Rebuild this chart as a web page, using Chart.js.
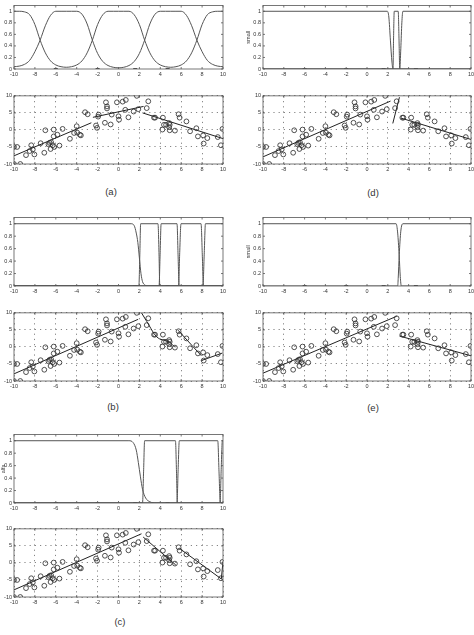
<!DOCTYPE html>
<html>
<head>
<meta charset="utf-8">
<script src="https://cdn.jsdelivr.net/npm/chart.js@4.4.0/dist/chart.umd.min.js"></script>
<style>
    html, body { margin: 0; padding: 0; background: #fff; }
    #fig { position: relative; width: 474px; height: 635px; overflow: hidden; background: #fff;
           font-family: "Liberation Sans", Arial, sans-serif; }
    #fig canvas { position: absolute; }
    .cap { position: absolute; font-size: 9.5px; line-height: 1; color: #333; transform: translateX(-50%); }
</style>
</head>
<body>
<div id="fig"></div>
<script>
// ticks
const xTicks = [-10, -8, -6, -4, -2, 0, 2, 4, 6, 8, 10];
const gateTicks = [0, 0.2, 0.4, 0.6, 0.8, 1];
const dataTicks = [-10, -5, 0, 5, 10];

// samples (same in every lower panel)
const sampleX = [-10, -9.7, -10, -9.4, -8.85, -8.5, -8.35, -8.2, -8.05, -7.45, -7.1, -7.0, -6.7, -6.6, -6.45, -6.5,
    -6.3, -6.2, -6.2, -6.15, -5.85, -5.65, -5.35, -4.65, -4.25, -4.0, -3.95, -3.7, -3.6, -3.2, -2.95, -2.15, -2.05,
    -1.95, -1.9, -1.3, -1.2, -1.1, -1.1, -0.75, -0.65, -0.15, 0, 0.05, 0.4, 0.7, 0.65, 0.95, 1.45, 1.75, 1.9, 2.85,
    2.7, 3.4, 3.5, 4.25, 4.2, 4.35, 4.55, 4.85, 4.85, 4.9, 4.9, 5.4, 5.75, 5.85, 6.5, 6.85, 7.45, 7.6, 8.1, 8.15,
    8.5, 9.5, 9.8, 9.95];
const sampleY = [-5, -5, -10, -10, -7.4, -6.2, -4.5, -5.7, -7.2, -3.9, -6.7, -0.1, -4.2, -3.8, -3.6, -5.6,
    -4.5, 0.1, -1.9, -5.0, -1.4, -4.6, 0.3, -2.6, -0.9, 1.1, -0.8, -1.4, -1.6, 5.2, 4.6, 1.3, 0.6,
    3.9, 4.5, 2.1, 8.1, 6.9, 6.3, 1.6, 4.5, 8.1, 4.0, 3.0, 8.3, 8.8, 5.9, 3.7, 5.4, 10, 6.1, 8.4,
    6.4, 3.6, 3.6, 3.6, 0.1, 1.5, 1.5, 2.0, 0.8, 1.5, -0.1, -0.2, 4.6, 3.6, 2.5, -0.4, 0.5, -1.9, -1.6, -4.0,
    -2.4, -2.1, -4.5, 0.3];
const markerX = [-6, -2, 1.6, 4.7];

// (a)
const gridA = [-10, -9.5, -9, -8.5, -8, -7.5, -7, -6.5, -6, -5.5, -5, -4.5, -4, -3.5, -3, -2.5, -2, -1.5, -1, -0.5,
    0, 0.5, 1, 1.5, 2, 2.5, 3, 3.5, 4, 4.5, 5, 5.5, 6, 6.5, 7, 7.5, 8, 8.5, 9, 9.5, 10];
const gateA1 = [1, 1, 0.99, 0.94, 0.77, 0.5, 0.28, 0.14, 0.07, 0.04, 0.03, 0.04, 0.07, 0.14, 0.28, 0.5, 0.77, 0.94, 1, 1,
    1, 1, 1, 0.94, 0.77, 0.5, 0.28, 0.14, 0.07, 0.04, 0.03, 0.04, 0.07, 0.14, 0.28, 0.5, 0.77, 0.94, 0.99, 1, 1];
const gateA2 = [0.04, 0.05, 0.08, 0.15, 0.3, 0.5, 0.75, 0.93, 1, 1, 1, 1, 1, 0.95, 0.78, 0.5, 0.27, 0.13, 0.06, 0.03,
    0.02, 0.03, 0.06, 0.13, 0.27, 0.5, 0.78, 0.95, 1, 1, 1, 1, 1, 0.93, 0.75, 0.5, 0.3, 0.15, 0.08, 0.05, 0.04];
const fitAX = [[-10, -2.6], [-2.45, 2.4], [2.3, 10]];
const fitAY = [[-7.6, 2.1], [3.7, 6.9], [5.0, -2.55]];

// (b)
const gateBX = [[-10, 1.2, 1.5, 1.7, 1.85, 2.0, 2.15, 2.3, 2.5, 2.8, 10],
    [-10, 1.95, 2.04, 2.12, 3.78, 3.88, 3.95, 10],
    [-10, 3.88, 3.98, 4.08, 5.6, 5.7, 5.8, 10],
    [-10, 5.75, 5.85, 5.98, 7.9, 8.02, 8.12, 10],
    [-10, 8.08, 8.2, 8.32, 10]];
const gateBY = [[1, 1, 0.97, 0.85, 0.7, 0.45, 0.2, 0.07, 0.02, 0, 0],
    [0, 0, 0.5, 1, 1, 0.5, 0, 0],
    [0, 0, 0.5, 1, 1, 0.5, 0, 0],
    [0, 0, 0.5, 1, 1, 0.5, 0, 0],
    [0, 0, 0.5, 1, 1]];
const fitBX = [[-10, 1.88], [2.2, 2.7, 3.1, 3.4, 3.8, 4.3, 4.9, 5.4], [5.7, 7.93], [7.93, 9.94]];
const fitBY = [[-7.9, 8.1], [10, 7.5, 5.4, 3.9, 2.6, 2.0, 1.4, -0.1], [4.9, -2.6], [-4.0, -1.8]];

// (c)
const gateCX = [[-10, 1.0, 1.4, 1.7, 1.9, 2.1, 2.3, 2.6, 3.0, 3.6, 10],
    [-10, 2.3, 2.4, 2.5, 5.45, 5.55, 5.63, 10],
    [-10, 5.6, 5.7, 5.82, 9.5, 9.62, 9.74, 10],
    [-10, 9.72, 9.82, 9.94, 10]];
const gateCY = [[1, 1, 0.97, 0.85, 0.65, 0.42, 0.22, 0.08, 0.02, 0, 0],
    [0, 0, 0.5, 1, 1, 0.5, 0, 0],
    [0, 0, 0.5, 1, 1, 0.5, 0, 0],
    [0, 0, 0.5, 1, 1]];
const fitCX = [[-10, 2.2], [2.36, 5.48], [5.86, 9.84], [9.84, 10]];
const fitCY = [[-7.9, 8.55], [7.6, -0.6], [4.2, -4.7], [-4.7, 0.4]];

// (d)
const gateDX = [[-10, 1.95, 2.1, 2.25, 2.4, 2.5, 10],
    [-10, 2.5, 2.55, 2.62, 3.0, 3.08, 3.15, 10],
    [-10, 3.15, 3.25, 3.35, 3.45, 10]];
const gateDY = [[1, 1, 0.9, 0.5, 0.12, 0, 0],
    [0, 0, 0.5, 1, 1, 0.5, 0, 0],
    [0, 0, 0.35, 0.8, 1, 1]];
const fitDX = [[-10, 2.26], [2.48, 3.12], [3.28, 10]];
const fitDY = [[-7.9, 8.46], [1.9, 9.6], [3.46, -2.8]];

// (e)
const gateEX = [[-10, 2.8, 2.95, 3.09, 3.2, 3.3, 10],
    [-10, 2.95, 3.0, 3.1, 3.25, 3.45, 10]];
const gateEY = [[1, 1, 0.85, 0.5, 0.15, 0, 0],
    [0, 0, 0.12, 0.5, 0.88, 1, 1]];
const fitEX = [[-10, 2.86], [3.12, 10]];
const fitEY = [[-7.7, 9.0], [3.2, -2.6]];

const FONT = '"Liberation Sans", Arial, sans-serif';
const fig = document.getElementById('fig');

// caixa com ticks para dentro, estilo matlab
const framePlugin = {
    id: 'frame',
    afterDatasetsDraw(chart) {
        const { ctx, chartArea: a, scales: { x, y } } = chart;
        ctx.save();
        ctx.strokeStyle = '#555';
        ctx.lineWidth = 0.8;
        ctx.strokeRect(a.left, a.top, a.width, a.height);
        ctx.beginPath();
        x.ticks.forEach(t => {
            const px = x.getPixelForValue(t.value);
            ctx.moveTo(px, a.top); ctx.lineTo(px, a.top + 2);
            ctx.moveTo(px, a.bottom); ctx.lineTo(px, a.bottom - 2);
        });
        y.ticks.forEach(t => {
            const py = y.getPixelForValue(t.value);
            ctx.moveTo(a.left, py); ctx.lineTo(a.left + 2, py);
            ctx.moveTo(a.right, py); ctx.lineTo(a.right - 2, py);
        });
        ctx.stroke();
        ctx.restore();
    }
};

function addCanvas(box) {
    const pad = { l: box.padL, t: Math.min(4, box.t), r: 6, b: 11 };
    const c = document.createElement('canvas');
    c.width = pad.l + box.r - box.l + pad.r;
    c.height = pad.t + box.b - box.t + pad.b;
    c.style.width = c.width + 'px';
    c.style.height = c.height + 'px';
    c.style.left = (box.l - pad.l) + 'px';
    c.style.top = (box.t - pad.t) + 'px';
    fig.appendChild(c);
    return { c, pad };
}

function makeScales(pad, yMin, yMax, yTickVals, withGrid, yTitle) {
    const tickFont = { size: 5.5, family: FONT };
    const fixPad = s => { s.paddingLeft = 0; s.paddingRight = 0; s.paddingTop = 0; s.paddingBottom = 0; };
    return {
        x: {
            type: 'linear', min: -10, max: 10,
            afterBuildTicks: s => { s.ticks = xTicks.map(v => ({ value: v })); },
            afterFit: s => { s.height = pad.b; fixPad(s); },
            ticks: { font: tickFont, color: '#333', padding: 2, maxRotation: 0, autoSkip: false,
                callback: v => String(v) },
            grid: { display: withGrid, drawTicks: false, color: '#666', lineWidth: 0.8 },
            border: { display: false, dash: [1.2, 4] }
        },
        y: {
            type: 'linear', min: yMin, max: yMax,
            afterBuildTicks: s => { s.ticks = yTickVals.map(v => ({ value: v })); },
            afterFit: s => { s.width = pad.l; fixPad(s); },
            ticks: { font: tickFont, color: '#333', padding: 2, autoSkip: false, callback: v => String(v) },
            grid: { display: withGrid, drawTicks: false, color: '#666', lineWidth: 0.8 },
            border: { display: false, dash: [1.2, 4] },
            title: { display: !!yTitle, text: yTitle || '', color: '#333',
                font: { size: 5.5, family: FONT }, padding: 0 }
        }
    };
}

function baseOptions(pad, scales) {
    return {
        responsive: false,
        animation: false,
        events: [],
        layout: { padding: { left: 0, top: pad.t, right: pad.r, bottom: 0 } },
        plugins: { legend: { display: false }, tooltip: { enabled: false } },
        scales: scales
    };
}

function toPoints(xs, ys) {
    return xs.map((x, i) => ({ x: x, y: ys[i] }));
}

function makeGatePanel(box, gx, gy, yTitle) {
    const { c, pad } = addCanvas(box);
    const datasets = gx.map((xs, k) => ({
        data: toPoints(xs, gy[k]),
        showLine: true, pointRadius: 0,
        borderColor: '#555', borderWidth: 1,
        cubicInterpolationMode: 'monotone'
    }));
    datasets.push({
        data: markerX.map(x => ({ x: x, y: 0 })),
        showLine: false, pointStyle: 'line', pointRadius: 2,
        borderColor: '#111', borderWidth: 1.5
    });
    new Chart(c, {
        type: 'scatter',
        data: { datasets: datasets },
        options: baseOptions(pad, makeScales(pad, 0, 1.1, gateTicks, false, yTitle)),
        plugins: [framePlugin]
    });
}

function makeDataPanel(box, fx, fy) {
    const { c, pad } = addCanvas(box);
    const datasets = [{
        data: toPoints(sampleX, sampleY),
        showLine: false, pointStyle: 'circle', pointRadius: 2.4,
        borderColor: '#333', borderWidth: 0.85, backgroundColor: 'rgba(0,0,0,0)'
    }];
    fx.forEach((xs, k) => datasets.push({
        data: toPoints(xs, fy[k]),
        showLine: true, pointRadius: 0,
        borderColor: '#222', borderWidth: 1,
        cubicInterpolationMode: 'monotone'
    }));
    new Chart(c, {
        type: 'scatter',
        data: { datasets: datasets },
        options: baseOptions(pad, makeScales(pad, -10, 10, dataTicks, true, null)),
        plugins: [framePlugin]
    });
}

function caption(text, cx, cy) {
    const d = document.createElement('div');
    d.className = 'cap';
    d.textContent = text;
    d.style.left = cx + 'px';
    d.style.top = (cy - 5) + 'px';
    fig.appendChild(d);
}

// coluna da esquerda
makeGatePanel({ l: 14, t: 1, r: 223, b: 69, padL: 14 }, [gridA, gridA], [gateA1, gateA2], null);
makeDataPanel({ l: 14, t: 95, r: 223, b: 164, padL: 14 }, fitAX, fitAY);
caption('(a)', 111, 192);

makeGatePanel({ l: 14, t: 216, r: 223, b: 286, padL: 14 }, gateBX, gateBY, null);
makeDataPanel({ l: 14, t: 312, r: 223, b: 381, padL: 14 }, fitBX, fitBY);
caption('(b)', 113, 407);

makeGatePanel({ l: 14, t: 433, r: 223, b: 503, padL: 14 }, gateCX, gateCY, 'alfa');
makeDataPanel({ l: 14, t: 528, r: 223, b: 597, padL: 14 }, fitCX, fitCY);
caption('(c)', 120, 622);

// coluna da direita
makeGatePanel({ l: 263, t: 1, r: 471, b: 69, padL: 18 }, gateDX, gateDY, 'small');
makeDataPanel({ l: 263, t: 95, r: 471, b: 164, padL: 18 }, fitDX, fitDY);
caption('(d)', 373, 193);

makeGatePanel({ l: 263, t: 216, r: 471, b: 286, padL: 18 }, gateEX, gateEY, 'small');
makeDataPanel({ l: 263, t: 312, r: 471, b: 381, padL: 18 }, fitEX, fitEY);
caption('(e)', 373, 408);
</script>
</body>
</html>
